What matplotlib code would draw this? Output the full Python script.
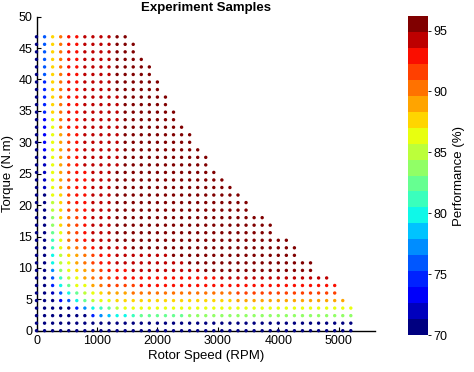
import numpy as np
import matplotlib
matplotlib.use("Agg")
import matplotlib.pyplot as plt
from matplotlib.colors import Normalize

plt.rcParams['font.family'] = ['Liberation Sans', 'DejaVu Sans']

# test grid
speed_rpm = np.linspace(0, 5200, 40)
torque_nm = np.linspace(0, 46.8, 40)

# colour scale of the bar
perf_min, perf_max, n_bands = 70, 96.2, 20
cbar_ticks = [70, 75, 80, 85, 90, 95]

# performance read per torque row (bottom -> top), one char per speed column,
# '0'..'9','A'..'J' = colour band 0..19 ; row length = last tested speed
band_chars = "0123456789ABCDEFGHIJ"
perf_rows = [
    "0" * 40,
    "0" * 40,
    "0000000356778999999" + "A" * 21,
    "0000035789BCC" + "C" * 27,
    "0002479BCCDDD" + "D" * 12 + "E" * 14,
    "001479BCDEEEF" + "F" * 12 + "G" * 13,
    "00379CCEFGGGG" + "H" * 25,
    "0048BCEFGGHHH" + "H" * 10 + "I" * 14,
    "005ACDEFGHHHI" + "I" * 8 + "J" * 14,
    "007BCEFGHHIII" + "I" * 6 + "J" * 16,
    "007BDEFGHHIII" + "I" * 4 + "J" * 16,
    "008CEFGHIIIIJ" + "J" * 20,
    "008CFGHIII" + "J" * 22,
    "009CFGHIII" + "J" * 20,
    "00ADFGHIII" + "J" * 20,
    "00ADFGHIII" + "J" * 19,
    "00BDGGHIII" + "J" * 17,
    "00BDGHHIII" + "J" * 17,
    "00CDGHHIII" + "J" * 16,
    "01CEGHHIII" + "J" * 15,
    "01CEGHHIII" + "J" * 14,
    "01CEGHHIII" + "J" * 13,
    "01CEGHIIIII" + "J" * 11,
    "01CEGHIIIII" + "J" * 11,
    "02CEGHIIIII" + "J" * 10,
    "02CEGHIIIII" + "J" * 9,
    "02CEGHIIIII" + "J" * 9,
    "02CFHHIIIII" + "J" * 8,
    "02CFHHIIIII" + "J" * 7,
    "03DFHHIIIII" + "J" * 7,
    "03DFHHIIIII" + "J" * 6,
    "03DFHHIIIII" + "J" * 6,
    "03DFHHIIII" + "J" * 6,
    "03DFHHIIII" + "J" * 6,
    "04DFHHIIII" + "J" * 5,
    "04DFHHIIII" + "J" * 5,
    "04DFHHIIII" + "J" * 4,
    "04DFHHIIII" + "J" * 3,
    "04DFHHIIII" + "J" * 3,
    "04DFHHIIII" + "J" * 2,
]

band_w = (perf_max - perf_min) / n_bands
xs, ys, cs = [], [], []
for t, row in zip(torque_nm, perf_rows):
    for s, ch in zip(speed_rpm, row):
        xs.append(s)
        ys.append(t)
        cs.append(perf_min + (band_chars.index(ch) + 0.5) * band_w)

cmap = plt.get_cmap('jet', n_bands)
norm = Normalize(vmin=perf_min, vmax=perf_max)

fig = plt.figure(figsize=(4.74, 3.72), dpi=100)
ax = fig.add_axes([36.5 / 474, 41.3 / 372, 338.5 / 474, 314 / 372])
sc = ax.scatter(xs, ys, c=cs, cmap=cmap, norm=norm, s=6, marker='o',
                linewidths=0, clip_on=False, zorder=3)

ax.set_xlim(0, 5600)
ax.set_ylim(0, 50)
ax.set_xticks([0, 1000, 2000, 3000, 4000, 5000])
ax.set_yticks(range(0, 51, 5))
for sp in ['top', 'right']:
    ax.spines[sp].set_visible(False)
for sp in ['left', 'bottom']:
    ax.spines[sp].set_linewidth(1.0)
ax.tick_params(direction='in', length=3, width=0.8, labelsize=9, pad=3)
ax.set_xlabel("Rotor Speed (RPM)", fontsize=9.5, labelpad=2)
ax.set_ylabel("Torque (N.m)", fontsize=9.5, labelpad=3)
ax.set_title("Experiment Samples", fontsize=9.5, fontweight='bold', pad=4)

cax = fig.add_axes([408 / 474, 37 / 372, 20 / 474, 319 / 372])
cb = fig.colorbar(sc, cax=cax, ticks=cbar_ticks)
cb.outline.set_visible(False)
cb.ax.tick_params(direction='out', length=2, width=0.6, labelsize=9, pad=2)
cb.set_label("Performance (%)", fontsize=9.5, labelpad=4)

fig.savefig("out.png", dpi=100)
